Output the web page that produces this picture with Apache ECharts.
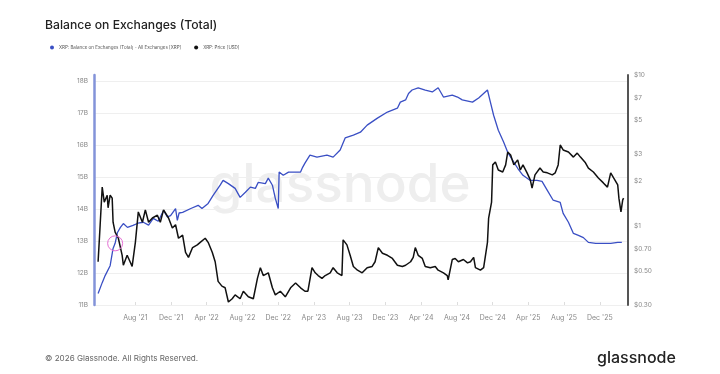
<!DOCTYPE html>
<html><head><meta charset="utf-8">
<script src="https://cdn.jsdelivr.net/npm/echarts@6/dist/echarts.min.js"></script>
<style>html,body{margin:0;padding:0;background:#fff}#c{width:720px;height:374px}</style>
</head><body><div id="c"></div>
<script>
// ---- data ----
const balanceDates = [
"2021-03-27","2021-04-10","2021-04-20","2021-05-07","2021-05-17","2021-05-24","2021-06-01","2021-06-11","2021-06-21","2021-07-05",
"2021-07-24","2021-08-10","2021-08-28","2021-09-15","2021-10-01","2021-10-18","2021-11-05","2021-11-18","2021-11-29","2021-12-16",
"2021-12-22","2021-12-28","2022-01-09","2022-02-06","2022-03-03","2022-03-16","2022-04-06","2022-04-23","2022-05-17","2022-05-27",
"2022-06-14","2022-07-07","2022-07-24","2022-08-11","2022-08-28","2022-09-14","2022-09-24","2022-10-18","2022-10-28","2022-11-11",
"2022-11-21","2022-12-01","2022-12-04","2022-12-18","2023-01-05","2023-01-29","2023-02-15","2023-02-22","2023-03-02","2023-03-19",
"2023-04-12","2023-05-16","2023-06-06","2023-06-30","2023-07-17","2023-08-14","2023-09-07","2023-09-30","2023-11-04","2023-12-08",
"2024-01-11","2024-01-21","2024-02-08","2024-02-18","2024-03-01","2024-03-22","2024-04-15","2024-05-09","2024-05-29","2024-06-16",
"2024-07-16","2024-08-03","2024-08-19","2024-09-23","2024-10-14","2024-11-13","2024-11-23","2024-12-04","2024-12-20","2025-01-07",
"2025-01-21","2025-02-07","2025-02-24","2025-03-14","2025-04-08","2025-05-01","2025-05-18","2025-06-05","2025-06-25","2025-07-19",
"2025-07-29","2025-08-16","2025-09-02","2025-09-19","2025-10-06","2025-10-23","2025-11-17","2025-12-10","2026-01-07","2026-01-31",
"2026-02-14"];
const balanceValues = [ // billions of XRP
11.36,11.70,11.92,12.23,12.77,12.93,13.27,13.43,13.55,13.43,
13.49,13.56,13.59,13.50,13.71,13.62,13.96,13.76,13.80,14.02,
13.65,13.88,13.90,14.02,14.12,14.02,14.18,14.43,14.75,14.90,
14.80,14.65,14.37,14.53,14.69,14.65,14.84,14.80,14.97,14.75,
14.34,14.02,15.16,15.06,15.16,15.16,15.16,15.31,15.44,15.69,
15.63,15.69,15.63,15.85,16.23,16.32,16.41,16.63,16.85,17.04,
17.16,17.35,17.42,17.62,17.73,17.80,17.73,17.67,17.80,17.51,
17.57,17.51,17.42,17.35,17.48,17.73,17.35,16.94,16.47,16.10,
15.78,15.53,15.28,15.06,14.90,14.90,14.87,14.59,14.28,14.21,
13.87,13.59,13.24,13.18,13.11,12.96,12.93,12.93,12.93,12.96,
12.96];

const priceDates = [
"2021-03-27","2021-04-03","2021-04-10","2021-04-17","2021-04-27","2021-04-30","2021-05-07","2021-05-14","2021-05-17","2021-05-24",
"2021-06-04","2021-06-17","2021-06-21","2021-07-04","2021-07-14","2021-07-21","2021-08-01","2021-08-11","2021-08-25","2021-09-04",
"2021-09-15","2021-09-28","2021-10-15","2021-10-25","2021-11-05","2021-11-22","2021-12-05","2021-12-16","2021-12-26","2022-01-09",
"2022-01-19","2022-01-29","2022-02-12","2022-02-28","2022-03-10","2022-03-27","2022-04-06","2022-04-20","2022-04-30","2022-05-10",
"2022-05-23","2022-06-03","2022-06-14","2022-06-27","2022-07-07","2022-07-24","2022-08-04","2022-08-21","2022-09-07","2022-09-21",
"2022-10-01","2022-10-11","2022-10-28","2022-11-11","2022-11-21","2022-12-08","2022-12-25","2023-01-12","2023-01-29","2023-02-15",
"2023-03-02","2023-03-12","2023-03-26","2023-04-06","2023-04-16","2023-04-29","2023-05-10","2023-05-27","2023-06-06","2023-06-20",
"2023-07-06","2023-07-10","2023-07-23","2023-08-03","2023-08-14","2023-08-28","2023-09-13","2023-09-30","2023-10-17","2023-10-27",
"2023-11-07","2023-11-21","2023-12-08","2023-12-25","2024-01-11","2024-01-28","2024-02-08","2024-02-25","2024-03-05","2024-03-12",
"2024-03-22","2024-04-05","2024-04-15","2024-05-02","2024-05-19","2024-05-29","2024-06-16","2024-06-29","2024-07-02","2024-07-16",
"2024-07-26","2024-08-06","2024-08-23","2024-09-06","2024-09-16","2024-09-27","2024-10-03","2024-10-20","2024-10-31","2024-11-13",
"2024-11-17","2024-11-27","2024-12-01","2024-12-10","2024-12-20","2025-01-04","2025-01-14","2025-01-21","2025-01-31","2025-02-11",
"2025-02-24","2025-03-05","2025-03-14","2025-03-28","2025-04-08","2025-04-14","2025-04-24","2025-05-11","2025-05-22","2025-06-05",
"2025-06-22","2025-07-02","2025-07-12","2025-07-19","2025-07-29","2025-08-16","2025-09-02","2025-09-15","2025-09-26","2025-10-13",
"2025-10-23","2025-11-09","2025-11-26","2025-12-13","2025-12-27","2026-01-07","2026-01-17","2026-01-31","2026-02-04","2026-02-11",
"2026-02-17","2026-02-20"];
const priceValues = [ // USD
0.58,1.02,1.81,1.44,1.60,1.32,1.60,1.53,1.06,0.91,
0.83,0.64,0.55,0.64,0.58,0.54,0.78,1.24,1.06,1.28,
1.06,1.13,1.18,1.06,1.28,1.13,0.97,1.02,0.83,0.87,
0.67,0.62,0.72,0.75,0.78,0.83,0.78,0.67,0.58,0.43,
0.40,0.39,0.314,0.33,0.35,0.33,0.37,0.34,0.33,0.45,
0.53,0.47,0.49,0.39,0.35,0.37,0.34,0.39,0.42,0.39,
0.37,0.37,0.53,0.49,0.47,0.45,0.47,0.49,0.53,0.49,
0.47,0.81,0.75,0.64,0.54,0.51,0.49,0.53,0.54,0.58,
0.72,0.66,0.64,0.61,0.55,0.54,0.55,0.58,0.62,0.72,
0.64,0.61,0.54,0.53,0.54,0.51,0.49,0.47,0.44,0.60,
0.61,0.58,0.60,0.57,0.58,0.62,0.53,0.51,0.53,0.78,
1.13,1.44,2.54,2.65,2.35,2.28,2.54,3.09,2.95,2.54,
2.74,2.35,2.54,2.25,2.02,1.78,2.18,2.42,2.28,2.25,
2.18,2.25,2.54,3.44,3.19,3.09,2.86,3.04,2.86,2.62,
2.42,2.28,2.08,1.93,1.81,2.25,2.08,1.87,1.53,1.24,
1.49,1.53];

const xTickDates = ["2021-08-01","2021-12-01","2022-04-01","2022-08-01","2022-12-01","2023-04-01","2023-08-01",
  "2023-12-01","2024-04-01","2024-08-01","2024-12-01","2025-04-01","2025-08-01","2025-12-01"];
const leftTicks = [11,12,13,14,15,16,17,18];
const rightTicks = [0.3,0.5,0.7,1,2,3,5,7,10];
const highlightIndex = 5; // circled point on the balance line
const xRange = ["2021-03-13","2026-03-07"];

// ---- helpers ----
function ts(s){const p=s.split('-').map(Number);return Date.UTC(p[0],p[1]-1,p[2]);}
const MONTHS=['Jan','Feb','Mar','Apr','May','Jun','Jul','Aug','Sep','Oct','Nov','Dec'];
const FONT='Inter, "Noto Sans", sans-serif';

const chart = echarts.init(document.getElementById('c'), null, {renderer:'canvas'});
chart.setOption({
  backgroundColor:'#ffffff',
  animation:false,
  textStyle:{fontFamily:FONT},
  title:[
    {text:'Balance on Exchanges (Total)',left:40,top:14,textStyle:{fontSize:12.2,fontWeight:500,color:'#222',fontFamily:FONT}},
    {text:'© 2026 Glassnode. All Rights Reserved.',left:40,top:350,textStyle:{fontSize:8.1,fontWeight:400,color:'#666',fontFamily:FONT}},
    {text:'glassnode',left:592,top:345,textStyle:{fontSize:16,fontWeight:500,color:'#222',fontFamily:FONT}}
  ],
  legend:{
    left:45,top:40,icon:'circle',itemWidth:4,itemHeight:4,itemGap:13,
    textStyle:{fontSize:4.5,color:'#555',fontFamily:FONT},
    data:['XRP: Balance on Exchanges (Total) - All Exchanges [XRP]','XRP: Price [USD]']
  },
  graphic:[{
    type:'text',z:0,silent:true,
    style:{x:340,y:186,text:'glassnode',align:'center',verticalAlign:'middle',
      font:'500 53px Inter, "Noto Sans", sans-serif',fill:'#eeeeee'}
  }],
  grid:{left:94,right:92,top:75,bottom:69,containLabel:false},
  xAxis:{
    type:'value',min:ts(xRange[0]),max:ts(xRange[1]),scale:true,
    axisLine:{show:false},
    axisTick:{show:true,length:3,inside:true,lineStyle:{color:'#ddd'},customValues:xTickDates.map(ts)},
    splitLine:{show:false},
    axisLabel:{customValues:xTickDates.map(ts),fontSize:7,color:'#888',margin:9,
      formatter:function(v){const d=new Date(v);return MONTHS[d.getUTCMonth()]+" '"+String(d.getUTCFullYear()).slice(2);}}
  },
  yAxis:[{
    type:'value',min:11,max:18.2,position:'left',
    axisLine:{show:true,lineStyle:{color:'#8393d9',width:2.5}},
    axisTick:{show:false,customValues:leftTicks},
    axisLabel:{customValues:leftTicks,fontSize:6.5,color:'#888',margin:6,formatter:function(v){return v+'B';}},
    splitLine:{show:true,lineStyle:{color:'#efefef',width:1}}
  },{
    type:'log',logBase:10,min:0.3,max:10,position:'right',
    axisLine:{show:true,lineStyle:{color:'#555',width:2}},
    axisTick:{show:false,customValues:rightTicks},
    axisLabel:{customValues:rightTicks,fontSize:6.5,color:'#888',margin:6,
      formatter:function(v){return v>=1?'$'+Math.round(v):'$'+v.toFixed(2);}},
    splitLine:{show:false}
  }],
  series:[{
    name:'XRP: Balance on Exchanges (Total) - All Exchanges [XRP]',
    type:'line',yAxisIndex:0,showSymbol:false,symbol:'circle',
    color:'#3a4fc4',lineStyle:{width:1.3,color:'#3a4fc4'},
    data:balanceDates.map(function(d,i){return [ts(d),balanceValues[i]];}),
    markPoint:{
      silent:true,symbol:'circle',symbolSize:15,label:{show:false},
      itemStyle:{color:'rgba(0,0,0,0)',borderColor:'#e56fd5',borderWidth:1},
      data:[{coord:[ts(balanceDates[highlightIndex]),balanceValues[highlightIndex]]}]
    },
    z:3
  },{
    name:'XRP: Price [USD]',
    type:'line',yAxisIndex:1,showSymbol:false,symbol:'circle',
    color:'#111',lineStyle:{width:1.5,color:'#111'},
    data:priceDates.map(function(d,i){return [ts(d),priceValues[i]];}),
    z:4
  }]
});
</script>
</body></html>
